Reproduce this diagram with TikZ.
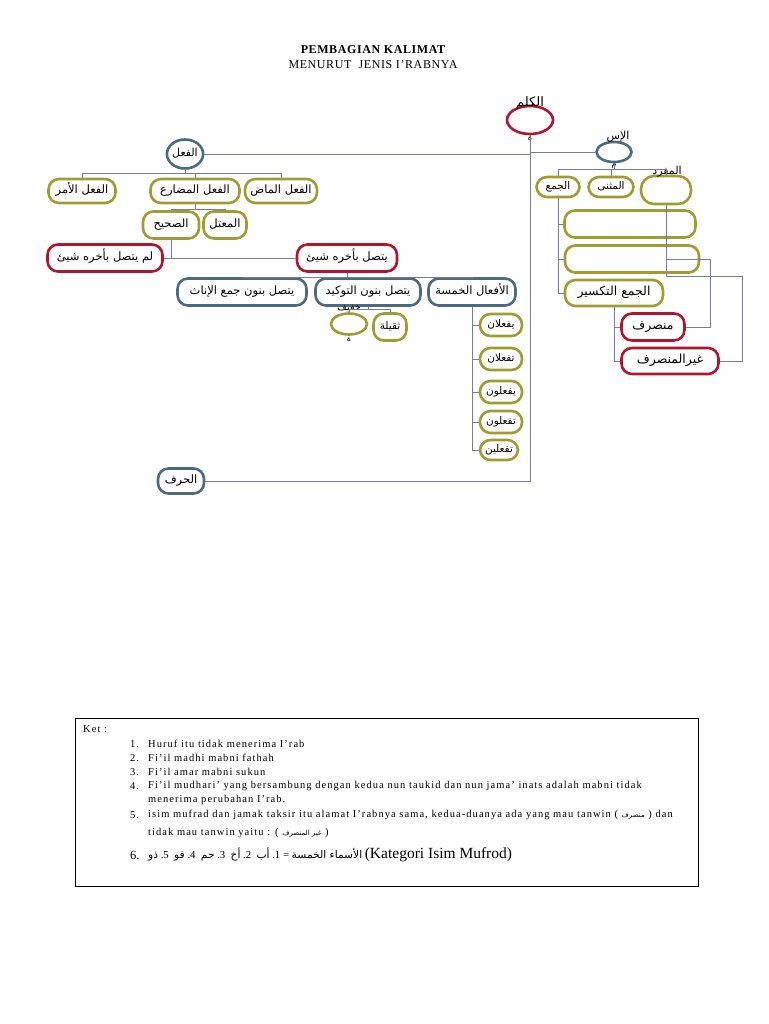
\documentclass[tikz,border=0pt]{standalone}
\usepackage{fontspec}
\setmainfont{Liberation Serif}
\newfontfamily\ketfont[LetterSpace=10]{Liberation Serif}
\newfontfamily\titfont[LetterSpace=5]{Liberation Serif}
\newfontfamily\arabicfont[Script=Arabic]{DejaVu Sans}
\TeXXeTstate=1
\usetikzlibrary{shapes.geometric}
\newcommand{\ar}[1]{{\arabicfont\beginR #1\endR}}
\definecolor{cred}{HTML}{B0142F}
\definecolor{colive}{HTML}{9E9C34}
\definecolor{cblue}{HTML}{4D6B7C}
\definecolor{cline}{HTML}{7A7AAA}
\begin{document}
\begin{tikzpicture}[x=1pt,y=-1pt,
  every node/.style={inner sep=1pt},
  pill/.style={rectangle, rounded corners=10.5pt, line width=2.6pt, text height=7pt, text depth=1.5pt, font=\fontsize{11.5}{13}\selectfont},
  oval/.style={ellipse, line width=2.6pt, inner sep=0pt},
  rp/.style={pill, draw=cred},
  op/.style={pill, draw=colive},
  bp/.style={pill, draw=cblue},
  ro/.style={oval, draw=cred},
  oo/.style={oval, draw=colive},
  bo/.style={oval, draw=cblue},
  sz/.style 2 args={minimum width=#1, minimum height=#2},
  link/.style={draw=cline, line width=0.9pt},
  lbl/.style={font=\fontsize{11}{13}\selectfont, inner sep=0pt},
  ket/.style={anchor=west, inner sep=0pt, font=\ketfont\fontsize{10.5}{12}\selectfont}
]
\useasboundingbox[fill=white] (0,0) rectangle (768,1024);

% title
\node[font=\titfont\bfseries\fontsize{12}{14}\selectfont] (t1) at (373,50) {PEMBAGIAN KALIMAT};
\node[font=\titfont\fontsize{12}{14}\selectfont] (t2) at (373,65) {MENURUT\ \ JENIS I’RABNYA};

% nodes
\node[ro, sz={46}{28}] (kalima) at (530,120) {};
\node[bo, sz={36}{29}, text height=7pt, text depth=1.5pt, font=\fontsize{11}{13}\selectfont] (fiil) at (185,154) {\ar{الفعل}};
\node[bo, sz={35}{20}] (isim) at (614,152) {};
\node[bp, sz={46}{25}] (harf) at (181,481) {\ar{الحرف}};

\node[op, sz={67}{24}] (amr) at (82,191) {\ar{الفعل الأمر}};
\node[op, sz={89}{24}] (mudhari) at (195,191) {\ar{الفعل المضارع}};
\node[op, sz={72}{24}] (madi) at (281,191) {\ar{الفعل الماض}};
\node[op, sz={56}{27}] (sahih) at (171,225) {\ar{الصحيح}};
\node[op, sz={43}{27}] (mutal) at (225,225) {\ar{المعتل}};
\node[rp, sz={115}{27}] (lam) at (105,258) {\ar{لم يتصل بأخره شيئ}};
\node[rp, sz={100}{27}] (yat) at (347,258) {\ar{يتصل بأخره شيئ}};
\node[bp, sz={129}{27}] (inats) at (242,292) {\ar{يتصل بنون جمع الإناث}};
\node[bp, sz={105}{27}] (taukid) at (368,292) {\ar{يتصل بنون التوكيد}};
\node[bp, sz={87}{27}] (khamsa) at (472,292) {\ar{الأفعال الخمسة}};
\node[oo, sz={36}{21}] (khafifa) at (349,324) {};
\node[op, sz={33}{27}, font=\fontsize{10.5}{12}\selectfont] (tsaqila) at (390,327) {\ar{ثقيلة}};
\node[op, sz={42}{22}, font=\fontsize{10.5}{12}\selectfont] (f1) at (501,325) {\ar{يفعلان}};
\node[op, sz={42}{22}, font=\fontsize{10.5}{12}\selectfont] (f2) at (501,359) {\ar{تفعلان}};
\node[op, sz={42}{22}, font=\fontsize{10.5}{12}\selectfont] (f3) at (501,392) {\ar{يفعلون}};
\node[op, sz={42}{22}, font=\fontsize{10.5}{12}\selectfont] (f4) at (501,422) {\ar{تفعلون}};
\node[op, sz={38}{20}, font=\fontsize{10.5}{12}\selectfont] (f5) at (499,450) {\ar{تفعلين}};

\node[op, sz={43}{20}, font=\fontsize{10.5}{12}\selectfont] (jama) at (558,187) {\ar{الجمع}};
\node[op, sz={45}{20}, font=\fontsize{10.5}{12}\selectfont] (mutsanna) at (611,187) {\ar{المثنى}};
\node[op, sz={50}{28}, rounded corners=13pt] (mufrad) at (666,190) {};
\node[op, sz={131}{27}] (e1) at (630,224) {};
\node[op, sz={134}{27}] (e2) at (632,259) {};
\node[op, sz={98}{26}, font=\fontsize{12.5}{14}\selectfont] (taksir) at (614,293) {\ar{الجمع التكسير}};
\node[rp, sz={63}{27}, font=\fontsize{12.5}{14}\selectfont] (munsharif) at (653,327) {\ar{منصرف}};
\node[rp, sz={97}{26}, font=\fontsize{12.5}{14}\selectfont] (ghair) at (670,361) {\ar{غيرالمنصرف}};

% split labels
\node[lbl, font=\fontsize{13}{15}\selectfont] (kl1) at (530,103) {\ar{الكلم}};
\node[lbl, font=\fontsize{8}{9}\selectfont] (kl2) at (530,139) {\ar{ة}};
\node[lbl] (is1) at (618,137) {\ar{الإس}};
\node[lbl, font=\fontsize{8}{9}\selectfont] (is2) at (614,166) {\ar{م}};
\node[lbl] (mf1) at (667,172) {\ar{المفرد}};
\node[lbl, font=\fontsize{9.5}{11}\selectfont] (kf1) at (349,309) {\ar{خفيف}};
\node[lbl, font=\fontsize{8}{9}\selectfont] (kf2) at (349,340) {\ar{ة}};

% connectors: main trunk
\coordinate (trunkend) at (530,481);
\draw[link] (kalima.south) -- (trunkend) -- (harf.east);
\draw[link] (fiil.east) -- (fiil.east -| kalima.south);
\draw[link] (kalima.south |- isim.west) -- (isim.west);

% fiil children
\draw[link] (fiil.south) -- (fiil.south |- 0,173);
\draw[link] (amr.north) |- (madi.north |- 0,173) -- (madi.north);
\draw[link] (mudhari.north) -- (mudhari.north |- 0,173);
% mudhari children
\draw[link] (mudhari.south) -- (mudhari.south |- 0,209);
\draw[link] (sahih.north) |- (mutal.north |- 0,209) -- (mutal.north);
% sahih
\draw[link] (sahih.south) -- (sahih.south |- lam.east);
\draw[link] (lam.east) -- (yat.west);
% yat children
\draw[link] (yat.south) -- (yat.south |- 0,277);
\draw[link] (inats.north) |- (khamsa.north |- 0,277) -- (khamsa.north);
\draw[link] (taukid.north) -- (taukid.north |- 0,277);
% taukid children
\draw[link] (taukid.south) -- (taukid.south |- 0,309);
\draw[link] (khafifa.north) |- (tsaqila.north |- 0,309) -- (tsaqila.north);
% khamsa list
\draw[link] (khamsa.south) |- (f5.west);
\draw[link] (khamsa.south |- f1.west) -- (f1.west);
\draw[link] (khamsa.south |- f2.west) -- (f2.west);
\draw[link] (khamsa.south |- f3.west) -- (f3.west);
\draw[link] (khamsa.south |- f4.west) -- (f4.west);

% isim children
\draw[link] (isim.south) -- (isim.south |- 0,169);
\draw[link] (jama.north) |- (mufrad.north |- 0,169) -- (mufrad.north);
\draw[link] (mutsanna.north) -- (mutsanna.north |- 0,169);
% jama
\draw[link] (jama.south) |- (taksir.west);
\draw[link] (jama.south |- e1.west) -- (e1.west);
\draw[link] (jama.south |- e2.west) -- (e2.west);
% mufrad
\coordinate (r1) at (742,276);
\coordinate (r2) at (710,259);
\draw[link] (mufrad.south) |- (r1) |- (ghair.east);
\draw[link] (mufrad.south |- r2) -- (r2) |- (munsharif.east);
% taksir
\draw[link] (taksir.south) |- (ghair.west);
\draw[link] (taksir.south |- munsharif.west) -- (munsharif.west);

% Ket box
\node[draw=black, line width=0.9pt, anchor=north west, inner sep=0pt, minimum width=623, minimum height=168] (ketbox) at (75,718) {};
\node[ket] (k0) at (83,729) {Ket :};
\node[ket] (n1) at (130,744) {1.};
\node[ket] (l1) at (148,744) {Huruf itu tidak menerima I’rab};
\node[ket] (n2) at (130,758) {2.};
\node[ket] (l2) at (148,758) {Fi’il madhi mabni fathah};
\node[ket] (n3) at (130,772) {3.};
\node[ket] (l3) at (148,772) {Fi’il amar mabni sukun};
\node[ket] (n4) at (130,786) {4.};
\node[ket] (l4) at (148,786) {Fi’il mudhari’ yang bersambung dengan kedua nun taukid dan nun jama’ inats adalah mabni tidak};
\node[ket] (l4b) at (148,800) {menerima perubahan I’rab.};
\node[ket] (n5) at (130,815) {5.};
\node[ket] (l5) at (148,815) {isim mufrad dan jamak taksir itu alamat I’rabnya sama, kedua-duanya ada yang mau tanwin ( {\fontsize{7}{8}\selectfont\ar{منصرف}} ) dan};
\node[ket] (l5b) at (148,833) {tidak mau tanwin yaitu : ( {\fontsize{7}{8}\selectfont\ar{غير المنصرف}} )};
\node[ket, font=\fontsize{12.5}{14}\selectfont] (n6) at (130,855) {6.};
\node[ket, font=\rmfamily] (l6) at (148,855) {{\fontsize{10.7}{12}\selectfont\ar{ذو} .5 \ \ar{فو} .4 \ \ar{حم} .3 \ \ar{أخ} .2 \ \ar{أب} .1 = \ar{الأسماء الخمسة}}{\fontsize{15.5}{17}\selectfont\,(Kategori Isim Mufrod)}};
\end{tikzpicture}
\end{document}
